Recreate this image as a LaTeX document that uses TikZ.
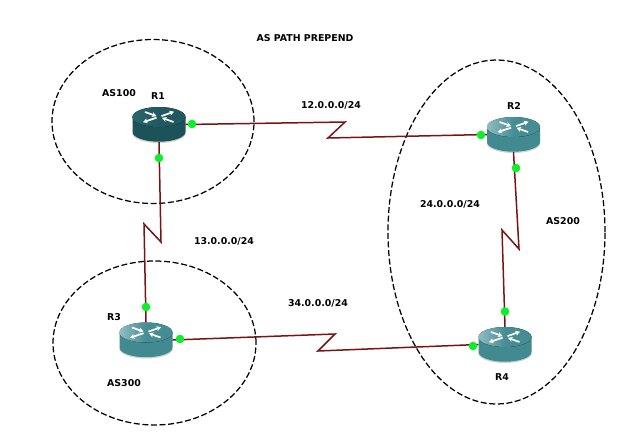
\documentclass[tikz,border=0pt]{standalone}
\usepackage{fontspec}
\setmainfont{DejaVu Sans}
\usetikzlibrary{shapes.geometric,arrows.meta}
\definecolor{linkred}{HTML}{7A1414}
\definecolor{dotgreen}{HTML}{0CF02C}
\definecolor{darktop}{HTML}{205A60}
\definecolor{darkside}{HTML}{1C5358}
\definecolor{darklite}{HTML}{2A666C}
\definecolor{tealtop}{HTML}{468D93}
\definecolor{tealside}{HTML}{418A90}
\definecolor{teallite}{HTML}{8FBDC1}
\tikzset{
  x=1pt,y=-1pt,
  asregion/.style={ellipse,draw=black,line width=1.25pt,dash pattern=on 6pt off 2.6pt,inner sep=0pt},
  lbl/.style={font=\fontsize{9.4}{11}\selectfont\bfseries,text=black,inner sep=0pt},
  link/.style={draw=linkred,line width=1.5pt,line join=miter},
  port/.style={circle,fill=dotgreen,inner sep=0pt,minimum size=8.6pt},
  routerbox/.style={inner sep=0pt,minimum width=53pt,minimum height=35pt},
  xarrow/.style={draw=white,line width=1.7pt,-{Stealth[length=4.5pt,width=5pt]}}
}
\newcommand{\routershape}[5]{%
  % #1,#2 centre; #3 top colour; #4 side colour; #5 top-left highlight
  \begin{scope}[shift={(#1,#2)}]
    \fill[black!18] (-26.5,8) -- (-26.5,9) arc[x radius=26.5,y radius=9.5,start angle=180,end angle=0] -- (26.5,8) -- cycle;
    \fill[#4] (-26.5,-7.5) -- (-26.5,7.5) arc[x radius=26.5,y radius=9.7,start angle=180,end angle=0] -- (26.5,-7.5) -- cycle;
    \fill[left color=#5,right color=#3,middle color=#3] (0,-7.5) ellipse[x radius=26.5,y radius=10];
    \draw[xarrow] (-14,-12.5) -- (-2.5,-8.4);
    \draw[xarrow] (14.5,-2.5) -- (3,-6.6);
    \draw[xarrow] (-2.5,-6.8) -- (-16,-2.3);
    \draw[xarrow] (2.5,-8.4) -- (15,-12.8);
  \end{scope}}
\begin{document}
\begin{tikzpicture}
\useasboundingbox[fill=white] (0,0) rectangle (640,437);
% AS regions
\node[asregion,minimum width=202pt,minimum height=164pt] (as100) at (153,121.5) {};
\node[asregion,minimum width=203pt,minimum height=164pt] (as300) at (154.5,343) {};
\node[asregion,minimum width=217pt,minimum height=344pt] (as200) at (496.5,232) {};
% Routers
\routershape{159}{124.5}{darktop}{darkside}{darklite}
\routershape{513.5}{134.5}{tealtop}{tealside}{teallite}
\routershape{146}{340}{tealtop}{tealside}{teallite}
\routershape{505}{344.5}{tealtop}{tealside}{teallite}
\node[routerbox] (r1) at (159,124.5) {};
\node[routerbox] (r2) at (513.5,134.5) {};
\node[routerbox] (r3) at (146,340) {};
\node[routerbox] (r4) at (505,344.5) {};
% Serial bends
\coordinate (z12a) at (345,122);
\coordinate (z12b) at (328,138);
\coordinate (z13a) at (161,242);
\coordinate (z13b) at (144,224);
\coordinate (z24a) at (519,249);
\coordinate (z24b) at (502,230);
\coordinate (z34a) at (335,334);
\coordinate (z34b) at (318,351);
% Links
\path[link] (r1.east) -- (z12a) -- (z12b) -- (r2.west);
\path[link] (r1.south) -- (z13a) -- (z13b) -- (r3.north);
\path[link] (r2.south) -- (z24a) -- (z24b) -- (r4.north);
\path[link] (r3.east) -- (z34a) -- (z34b) -- (r4.west);
% Ports
\node[port] (p1e) at (192,124) {};
\node[port] (p1s) at (159,158) {};
\node[port] (p2w) at (481,135) {};
\node[port] (p2s) at (516,168) {};
\node[port] (p3n) at (146,307) {};
\node[port] (p3e) at (180,339) {};
\node[port] (p4n) at (505,311.5) {};
\node[port] (p4w) at (473,346) {};
% Labels
\node[lbl] (title) at (305,38) {AS PATH PREPEND};
\node[lbl] (t100) at (119,93) {AS100};
\node[lbl] (t200) at (563,221) {AS200};
\node[lbl] (t300) at (124,383) {AS300};
\node[lbl] (tr1) at (158,96.5) {R1};
\node[lbl] (tr2) at (514,106) {R2};
\node[lbl] (tr3) at (114,317) {R3};
\node[lbl] (tr4) at (502,377) {R4};
\node[lbl] (n12) at (331,105) {12.0.0.0/24};
\node[lbl] (n13) at (224,241) {13.0.0.0/24};
\node[lbl] (n24) at (450,204) {24.0.0.0/24};
\node[lbl] (n34) at (318,303) {34.0.0.0/24};
\end{tikzpicture}
\end{document}
